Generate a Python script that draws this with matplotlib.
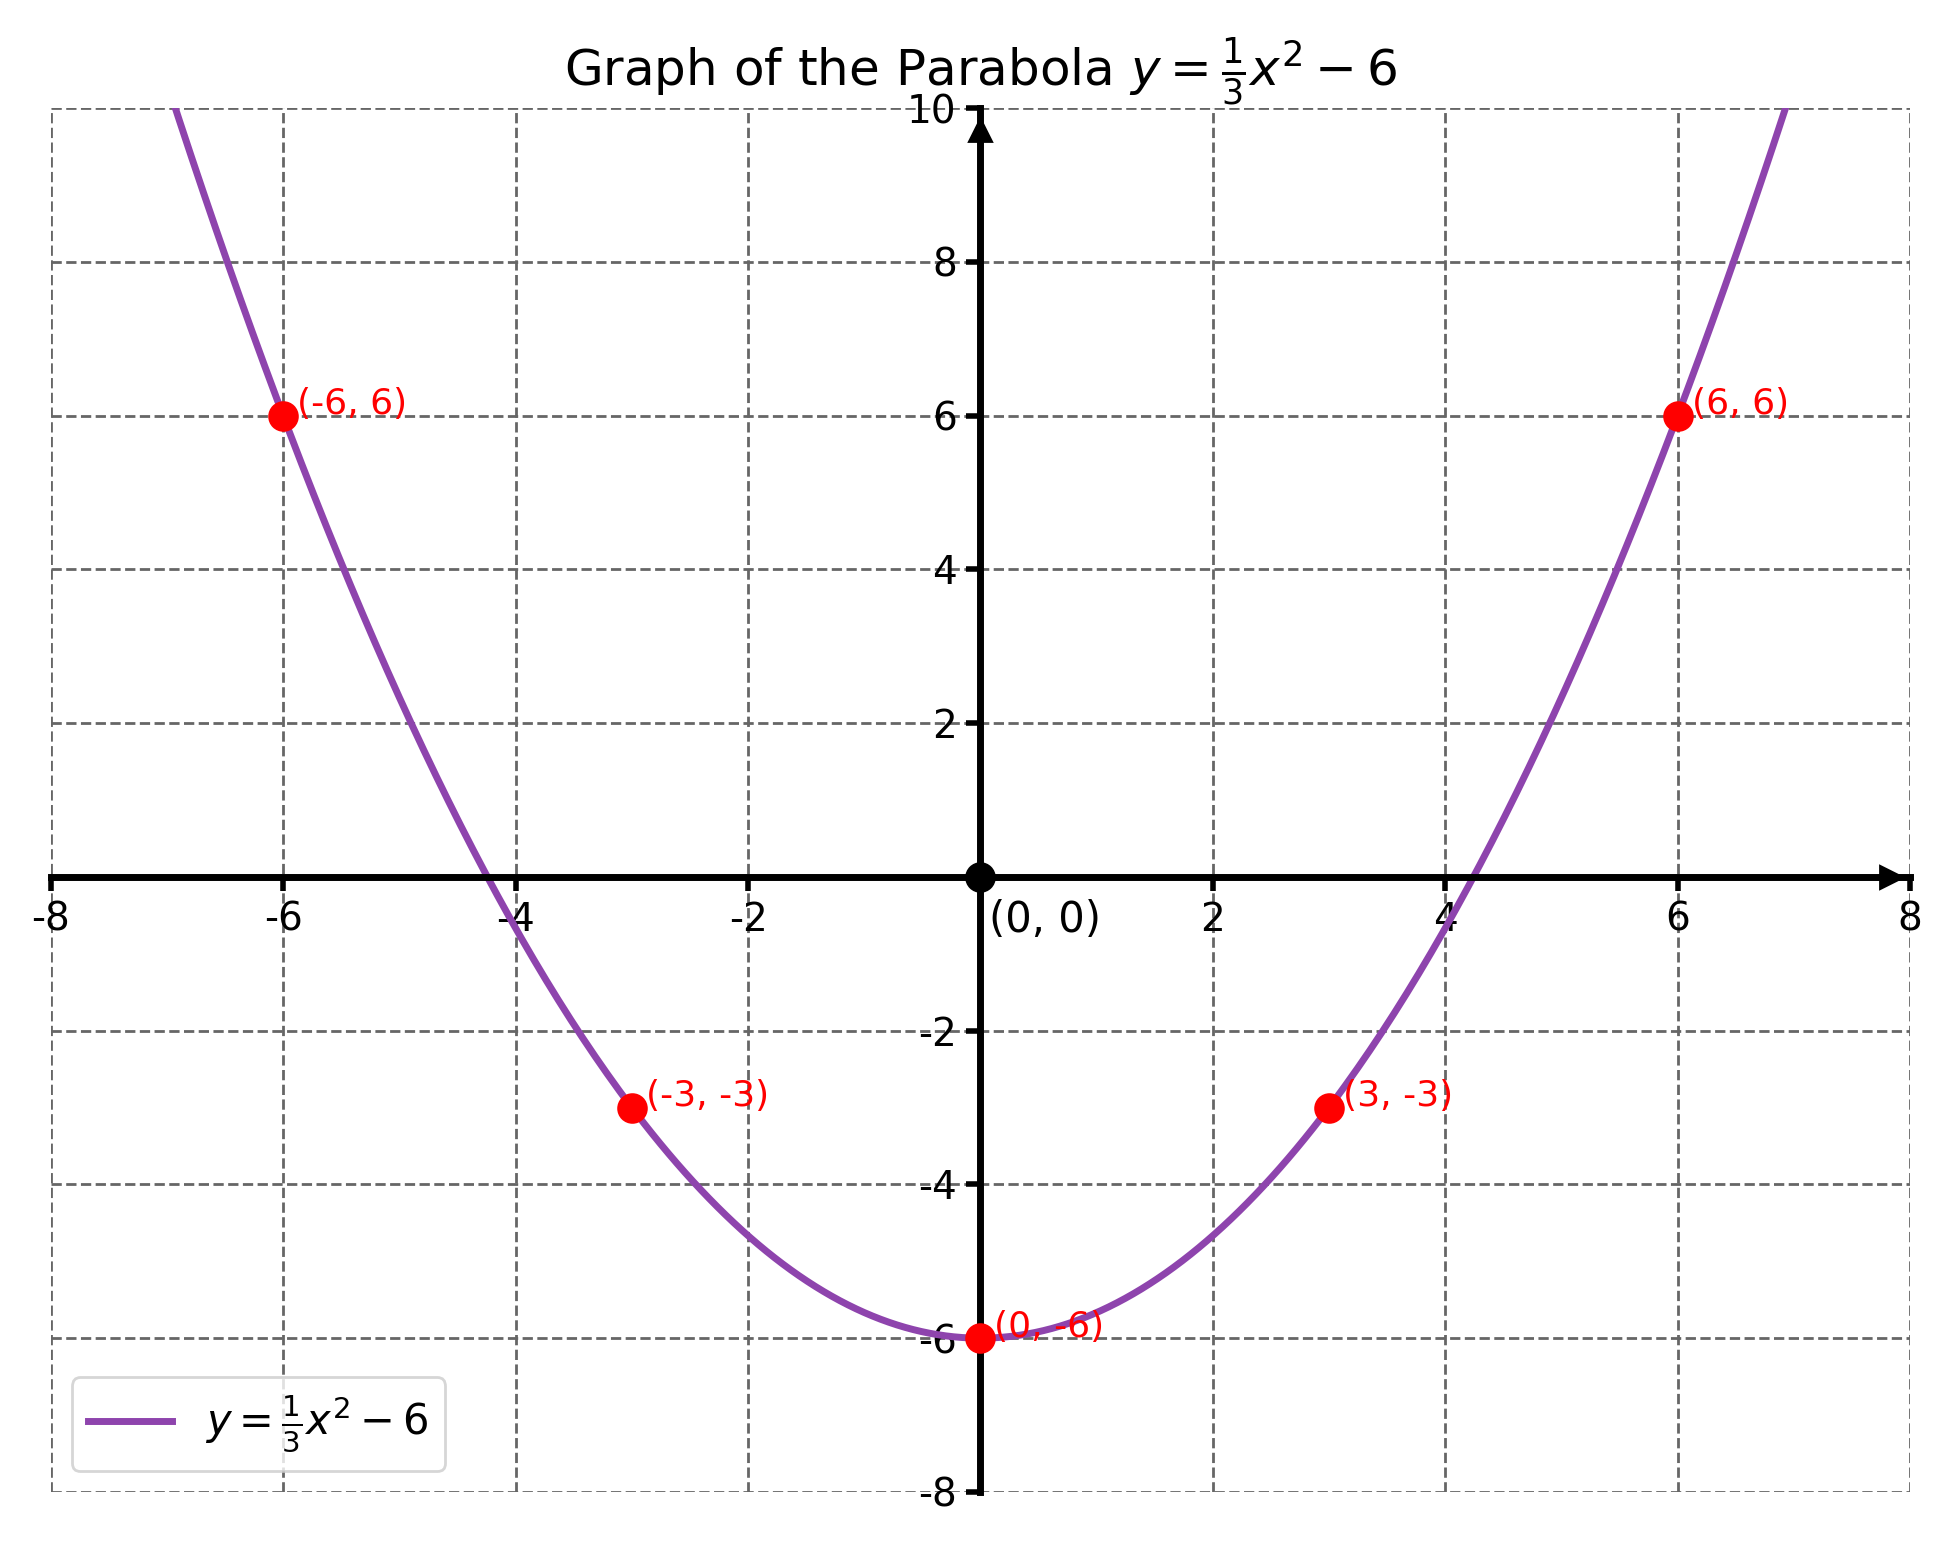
import numpy as np
import matplotlib.pyplot as plt
from matplotlib.transforms import offset_copy

plt.rcParams['axes.unicode_minus'] = False

x_min, x_max = -8, 8
y_min, y_max = -8, 10
x_ticks = [-8, -6, -4, -2, 2, 4, 6, 8]
y_ticks = [-8, -6, -4, -2, 2, 4, 6, 8, 10]

point_x = [-6, -3, 0, 3, 6]
point_y = [6, -3, -6, -3, 6]
point_labels = ['(-6, 6)', '(-3, -3)', '(0, -6)', '(3, -3)', '(6, 6)']

curve_label = r'$y = \frac{1}{3}x^2 - 6$'


def parabola(x):
    return x ** 2 / 3 - 6


def main():
    fig = plt.figure(figsize=(9.77, 7.73), dpi=200)
    ax = fig.add_axes([0.026, 0.035, 0.9515, 0.895])

    xs = np.linspace(-7, 7, 400)
    ax.plot(xs, parabola(xs), color='#8e44ad', linewidth=2.5, label=curve_label)

    ax.plot(point_x, point_y, 'o', color='red', markersize=10, zorder=5)
    for px, py, lab in zip(point_x, point_y, point_labels):
        ax.annotate(lab, (px, py), textcoords='offset points', xytext=(5, -2),
                    va='bottom', ha='left', color='red', fontsize=13)

    ax.plot(0, 0, 'o', color='black', markersize=10, zorder=6)
    ax.annotate('(0, 0)', (0, 0), textcoords='offset points', xytext=(3, -8),
                va='top', ha='left', color='black', fontsize=15)

    ax.set_xlim(x_min, x_max)
    ax.set_ylim(y_min, y_max)
    ax.set_xticks(x_ticks)
    ax.set_yticks(y_ticks)
    ax.tick_params(labelsize=14, width=2, length=5)

    ax.spines['left'].set_position('zero')
    ax.spines['bottom'].set_position('zero')
    ax.spines['left'].set_linewidth(2.5)
    ax.spines['bottom'].set_linewidth(2.5)
    ax.spines['top'].set_visible(False)
    ax.spines['right'].set_visible(False)

    # arrow heads just short of the axis ends
    xarrow = offset_copy(ax.get_yaxis_transform(), fig=fig, x=-7, y=0, units='points')
    yarrow = offset_copy(ax.get_xaxis_transform(), fig=fig, x=0, y=-8, units='points')
    ax.plot(1, 0, '>k', markersize=8, transform=xarrow, clip_on=False, zorder=7)
    ax.plot(0, 1, '^k', markersize=8, transform=yarrow, clip_on=False, zorder=7)

    ax.grid(True, linestyle='--', color='#666666', linewidth=1)

    ax.set_title('Graph of the Parabola ' + curve_label, fontsize=18, pad=4)
    ax.legend(loc='lower left', fontsize=15)

    fig.savefig('out.png', dpi=200)


main()
